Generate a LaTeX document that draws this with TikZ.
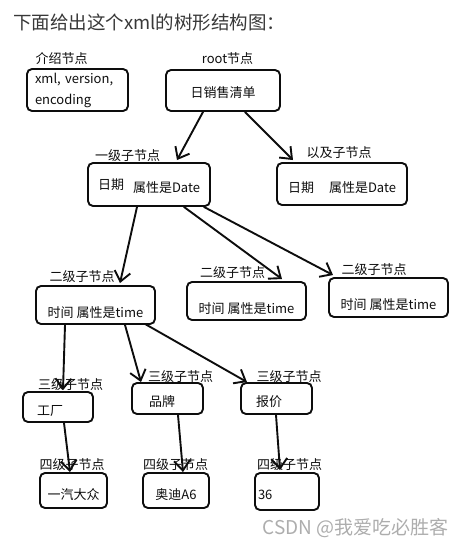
\documentclass[tikz,border=0pt]{standalone}
\usepackage{fontspec}
\setmainfont{Noto Sans CJK SC}
\usetikzlibrary{arrows.meta}

\begin{document}
\begin{tikzpicture}
	[x=1pt,y=-1pt,line cap=round,
	%Styles
	box/.style={draw=inkcolor,line width=1.9pt,rounded corners=5pt,text=inkcolor,font=\fontsize{13}{21}\selectfont},
	txt/.style={text height=#1,text depth=2pt},
	level/.style={text=inkcolor,font=\fontsize{13}{16}\selectfont,inner sep=0pt},
	arr/.style={draw=inkcolor,line width=1.9pt,-{Straight Barb[length=10pt,width=16pt]}}
	]
	
	%Colors
	\colorlet{inkcolor}{black!95}
	\colorlet{titlecolor}{black!78}
	\colorlet{markcolor}{black!32}
	
	\useasboundingbox (0,0) rectangle (464,546);
	
	%Texts
	\node[anchor=west,inner sep=0pt,text=titlecolor,font=\fontsize{18.5}{20}\selectfont] (title) at (13,22) {下面给出这个xml的树形结构图：};
	\node[anchor=east,inner sep=0pt,text=markcolor,font=\fontsize{19}{20}\selectfont] (mark) at (449,528) {CSDN @我爱吃必胜客};
	
	%The graphic
	\node[box,minimum width=101pt,minimum height=42pt,align=left,text width=85pt,inner xsep=8pt] (intro) at (77.5,90) {xml, version,\\encoding};
	\node[box,minimum width=114pt,minimum height=41pt,txt=15pt] (root) at (223,90.5) {日销售清单};
	\node[box,minimum width=122pt,minimum height=43pt,txt=18pt] (d1) at (149,184.5) {\raisebox{3pt}{日期}\hspace{9pt}属性是Date};
	\node[box,minimum width=130pt,minimum height=42pt,txt=18pt] (d2) at (342,184) {日期\hspace{15pt}属性是Date};
	\node[box,minimum width=119pt,minimum height=38pt,txt=26pt] (t1) at (95.5,305) {时间 属性是time};
	\node[box,minimum width=119pt,minimum height=38pt,txt=26pt] (t2) at (246.5,301) {时间 属性是time};
	\node[box,minimum width=119pt,minimum height=39pt,txt=26pt] (t3) at (388.5,297.5) {时间 属性是time};
	\node[box,minimum height=30pt,txt=18pt,align=left,text width=42pt,inner xsep=14pt] (plant) at (58,407) {工厂};
	\node[box,minimum height=31pt,txt=18pt,align=left,text width=37pt,inner xsep=17pt] (brand) at (167.5,398.5) {品牌};
	\node[box,minimum height=31pt,txt=18pt,align=left,text width=41pt,inner xsep=15pt] (price) at (276.5,398.5) {报价};
	\node[box,minimum width=67pt,minimum height=35pt,txt=19pt] (faw) at (73.5,490.5) {一汽大众};
	\node[box,minimum width=66pt,minimum height=35pt,txt=19pt] (audi) at (176,490.5) {奥迪A6};
	\node[box,minimum height=37pt,txt=18pt,align=left,text width=58pt,inner xsep=3pt] (num) at (287,491.5) {36};
	
	\node[level] (lintro) at (61.5,59) {介绍节点};
	\node[level] (lroot) at (227.5,59) {root节点};
	\node[level] (ld1) at (127.5,156) {一级子节点};
	\node[level] (ld2) at (339,153) {以及子节点};
	\node[level] (lt1) at (82,277) {二级子节点};
	\node[level] (lt2) at (232.5,273) {二级子节点};
	\node[level] (lt3) at (374,270) {二级子节点};
	\node[level] (lplant) at (70.5,385) {三级子节点};
	\node[level] (lbrand) at (180.5,377) {三级子节点};
	\node[level] (lprice) at (289,377) {三级子节点};
	\node[level] (lfaw) at (72,465) {四级子节点};
	\node[level] (laudi) at (175.5,465) {四级子节点};
	\node[level] (lnum) at (289.5,465) {四级子节点};
	
	\draw[arr] ([xshift=-20pt]root.south) -- ([xshift=28pt,yshift=2pt]d1.north);
	\draw[arr] ([xshift=22pt]root.south) -- ([xshift=-49pt,yshift=2pt]d2.north);
	\draw[arr] ([xshift=-12pt]d1.south) -- ([xshift=24.5pt,yshift=2pt]t1.north);
	\draw[arr] ([xshift=35pt]d1.south) -- ([xshift=35.5pt,yshift=2pt]t2.north);
	\draw[arr] ([xshift=55pt]d1.south) -- ([xshift=-55.5pt,yshift=2pt]t3.north);
	\draw[arr] ([xshift=-30.5pt]t1.south) -- ([xshift=5pt,yshift=1pt]plant.north);
	\draw[arr] ([xshift=29.5pt]t1.south) -- ([xshift=-26.5pt]brand.north);
	\draw[arr] ([xshift=49.5pt,yshift=1pt]t1.south) -- ([xshift=-29.5pt]price.north);
	\draw[arr] ([xshift=6pt]plant.south) -- ([xshift=-3.5pt]faw.north);
	\draw[arr] ([xshift=10.5pt]brand.south) -- ([xshift=7pt]audi.north);
	\draw[arr] ([xshift=-0.5pt]price.south) -- ([xshift=-7pt,yshift=2pt]num.north);
\end{tikzpicture}
\end{document}
